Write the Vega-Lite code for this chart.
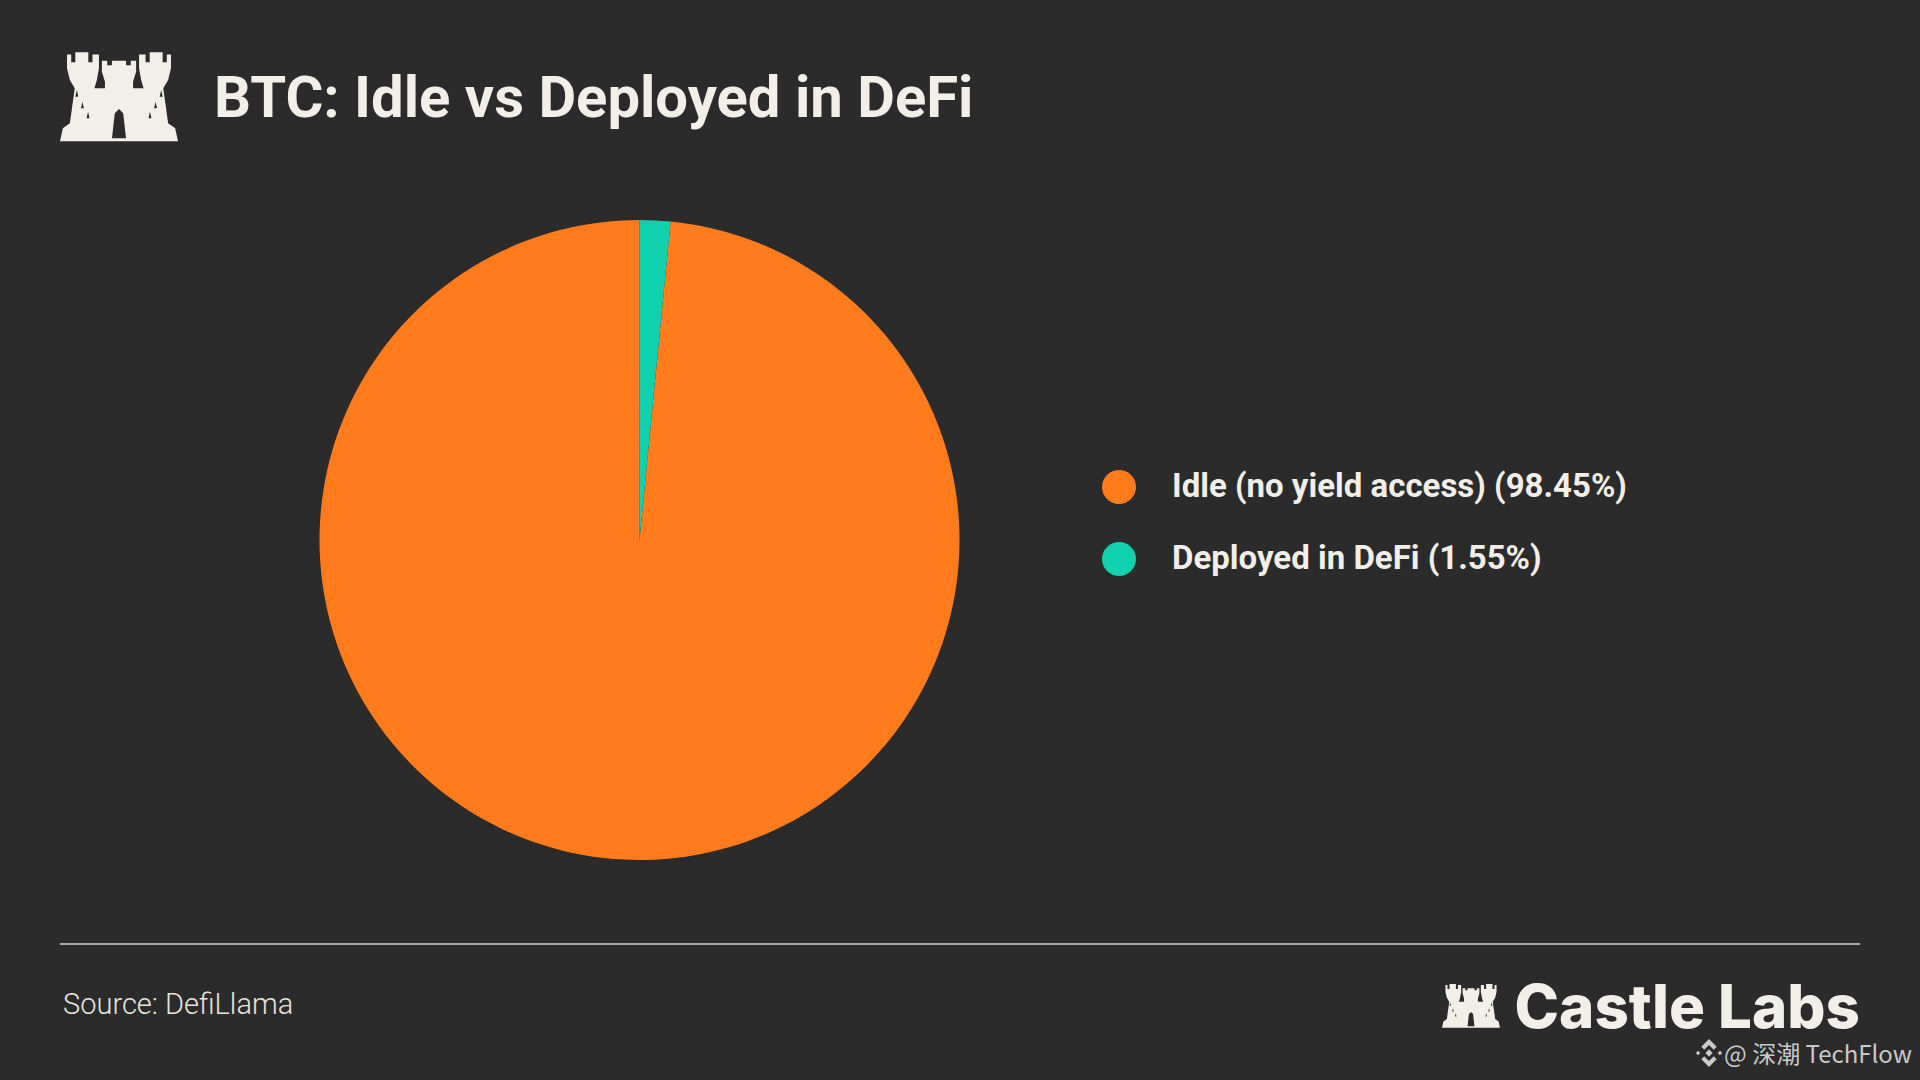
{
  "$schema": "https://vega.github.io/schema/vega-lite/v6.json",
  "width": 1279,
  "height": 1080,
  "autosize": "none",
  "padding": {"left": 0, "right": 641, "top": 0, "bottom": 0},
  "background": "#2b2b2b",
  "config": {"view": {"stroke": null}},
  "title": {
    "text": "BTC: Idle vs Deployed in DeFi",
    "anchor": "start",
    "frame": "group",
    "offset": 0,
    "dx": 214,
    "dy": 175,
    "baseline": "alphabetic",
    "font": "Roboto",
    "fontSize": 58,
    "fontWeight": "bold",
    "color": "#f2eee8"
  },
  "layer": [
    {
      "data": {
        "values": [
          {"segment": "Idle (no yield access) (98.45%)", "share": 98.45},
          {"segment": "Deployed in DeFi (1.55%)", "share": 1.55}
        ]
      },
      "mark": {"type": "arc", "outerRadius": 320},
      "encoding": {
        "theta": {"field": "share", "type": "quantitative", "stack": true},
        "order": {"field": "share", "sort": "ascending"},
        "color": {
          "field": "segment",
          "type": "nominal",
          "scale": {
            "domain": ["Idle (no yield access) (98.45%)", "Deployed in DeFi (1.55%)"],
            "range": ["#ff7b1c", "#10d0ae"]
          },
          "legend": {
            "title": null,
            "orient": "none",
            "legendX": 1102,
            "legendY": 470,
            "symbolType": "circle",
            "symbolSize": 1156,
            "symbolStrokeWidth": 0,
            "labelOffset": 36,
            "labelFont": "Roboto",
            "labelFontSize": 33,
            "labelFontWeight": "bold",
            "labelColor": "#f2eee8",
            "labelLimit": 600,
            "rowPadding": 38
          }
        }
      }
    },
    {
      "data": {"values": [{"role": "footer line"}]},
      "mark": {"type": "rule", "color": "#cfcac4", "strokeWidth": 1.5},
      "encoding": {"x": {"value": 60}, "x2": {"value": 1860}, "y": {"value": 944}}
    },
    {
      "data": {"values": [{"label": "Source: DefiLlama"}]},
      "mark": {"type": "text", "x": 63, "y": 1014, "align": "left", "baseline": "alphabetic", "font": "Roboto", "fontWeight": 300, "fontSize": 29, "color": "#e8e4de"},
      "encoding": {"text": {"field": "label"}}
    },
    {
      "data": {"values": [{"label": "Castle Labs"}]},
      "mark": {"type": "text", "x": 1860, "y": 1028, "align": "right", "baseline": "alphabetic", "font": "Inter", "fontWeight": 800, "fontSize": 60, "color": "#f2eee8"},
      "encoding": {"text": {"field": "label"}}
    },
    {
      "data": {"values": [{"label": "@ 深潮 TechFlow"}]},
      "mark": {"type": "text", "x": 1912, "y": 1063, "align": "right", "baseline": "alphabetic", "font": "Noto Sans CJK SC", "fontSize": 24, "color": "#c9c9c9"},
      "encoding": {"text": {"field": "label"}}
    },
    {
      "data": {"values": [{"icon": "castle"}]},
      "mark": {
        "type": "point", "x": 119, "y": 97, "size": 13924, "filled": true, "opacity": 1, "strokeWidth": 0, "color": "#f2eee8",
        "shape": "M-1,.751L-.952,.531L-.833,.446L-.75,-.147L-.833,-.288L-.881,-.486L-.881,-.72L-.81,-.72L-.81,-.59L-.74,-.59L-.74,-.757L-.52,-.757L-.52,-.59L-.45,-.59L-.45,-.72L-.34,-.72L-.34,-.486L-.375,-.288L-.417,-.147L-.238,-.147L-.238,-.26L-.29,-.429L-.29,-.616L-.2,-.616L-.2,-.54L-.12,-.54L-.12,-.616L.12,-.616L.12,-.54L.2,-.54L.2,-.616L.29,-.616L.29,-.429L.238,-.26L.238,-.147L.417,-.147L.375,-.288L.34,-.486L.34,-.72L.45,-.72L.45,-.59L.52,-.59L.52,-.757L.74,-.757L.74,-.59L.81,-.59L.81,-.72L.881,-.72L.881,-.486L.833,-.288L.75,-.147L.833,.446L.952,.531L1,.751ZM-.119,.7L.119,.7L.071,.277L0,.203L-.071,.277ZM-.74,-.006L-.69,-.006L-.714,-.118ZM-.645,.192L-.595,.192L-.62,.08ZM-.55,.362L-.5,.362L-.524,.25ZM.69,-.006L.74,-.006L.714,-.118ZM.595,.192L.645,.192L.62,.08ZM.5,.362L.55,.362L.524,.25Z"
      },
      "encoding": {}
    },
    {
      "data": {"values": [{"icon": "castle small"}]},
      "mark": {
        "type": "point", "x": 1471, "y": 1006, "size": 3364, "filled": true, "opacity": 1, "strokeWidth": 0, "color": "#f2eee8",
        "shape": "M-1,.751L-.952,.531L-.833,.446L-.75,-.147L-.833,-.288L-.881,-.486L-.881,-.72L-.81,-.72L-.81,-.59L-.74,-.59L-.74,-.757L-.52,-.757L-.52,-.59L-.45,-.59L-.45,-.72L-.34,-.72L-.34,-.486L-.375,-.288L-.417,-.147L-.238,-.147L-.238,-.26L-.29,-.429L-.29,-.616L-.2,-.616L-.2,-.54L-.12,-.54L-.12,-.616L.12,-.616L.12,-.54L.2,-.54L.2,-.616L.29,-.616L.29,-.429L.238,-.26L.238,-.147L.417,-.147L.375,-.288L.34,-.486L.34,-.72L.45,-.72L.45,-.59L.52,-.59L.52,-.757L.74,-.757L.74,-.59L.81,-.59L.81,-.72L.881,-.72L.881,-.486L.833,-.288L.75,-.147L.833,.446L.952,.531L1,.751ZM-.119,.7L.119,.7L.071,.277L0,.203L-.071,.277ZM-.74,-.006L-.69,-.006L-.714,-.118ZM-.645,.192L-.595,.192L-.62,.08ZM-.55,.362L-.5,.362L-.524,.25ZM.69,-.006L.74,-.006L.714,-.118ZM.595,.192L.645,.192L.62,.08ZM.5,.362L.55,.362L.524,.25Z"
      },
      "encoding": {}
    },
    {
      "data": {"values": [{"icon": "watermark diamond"}]},
      "mark": {
        "type": "point", "x": 1709, "y": 1053, "size": 784, "filled": true, "opacity": 1, "strokeWidth": 0, "color": "#c9c9c9",
        "shape": "M0,-1L.55,-.45L.34,-.24L0,-.58L-.34,-.24L-.55,-.45ZM0,-.26L.26,0L0,.26L-.26,0ZM-.78,-.16L-.62,0L-.78,.16L-.94,0ZM.78,-.16L.94,0L.78,.16L.62,0ZM-.55,.45L-.34,.24L0,.58L.34,.24L.55,.45L0,1Z"
      },
      "encoding": {}
    }
  ]
}
